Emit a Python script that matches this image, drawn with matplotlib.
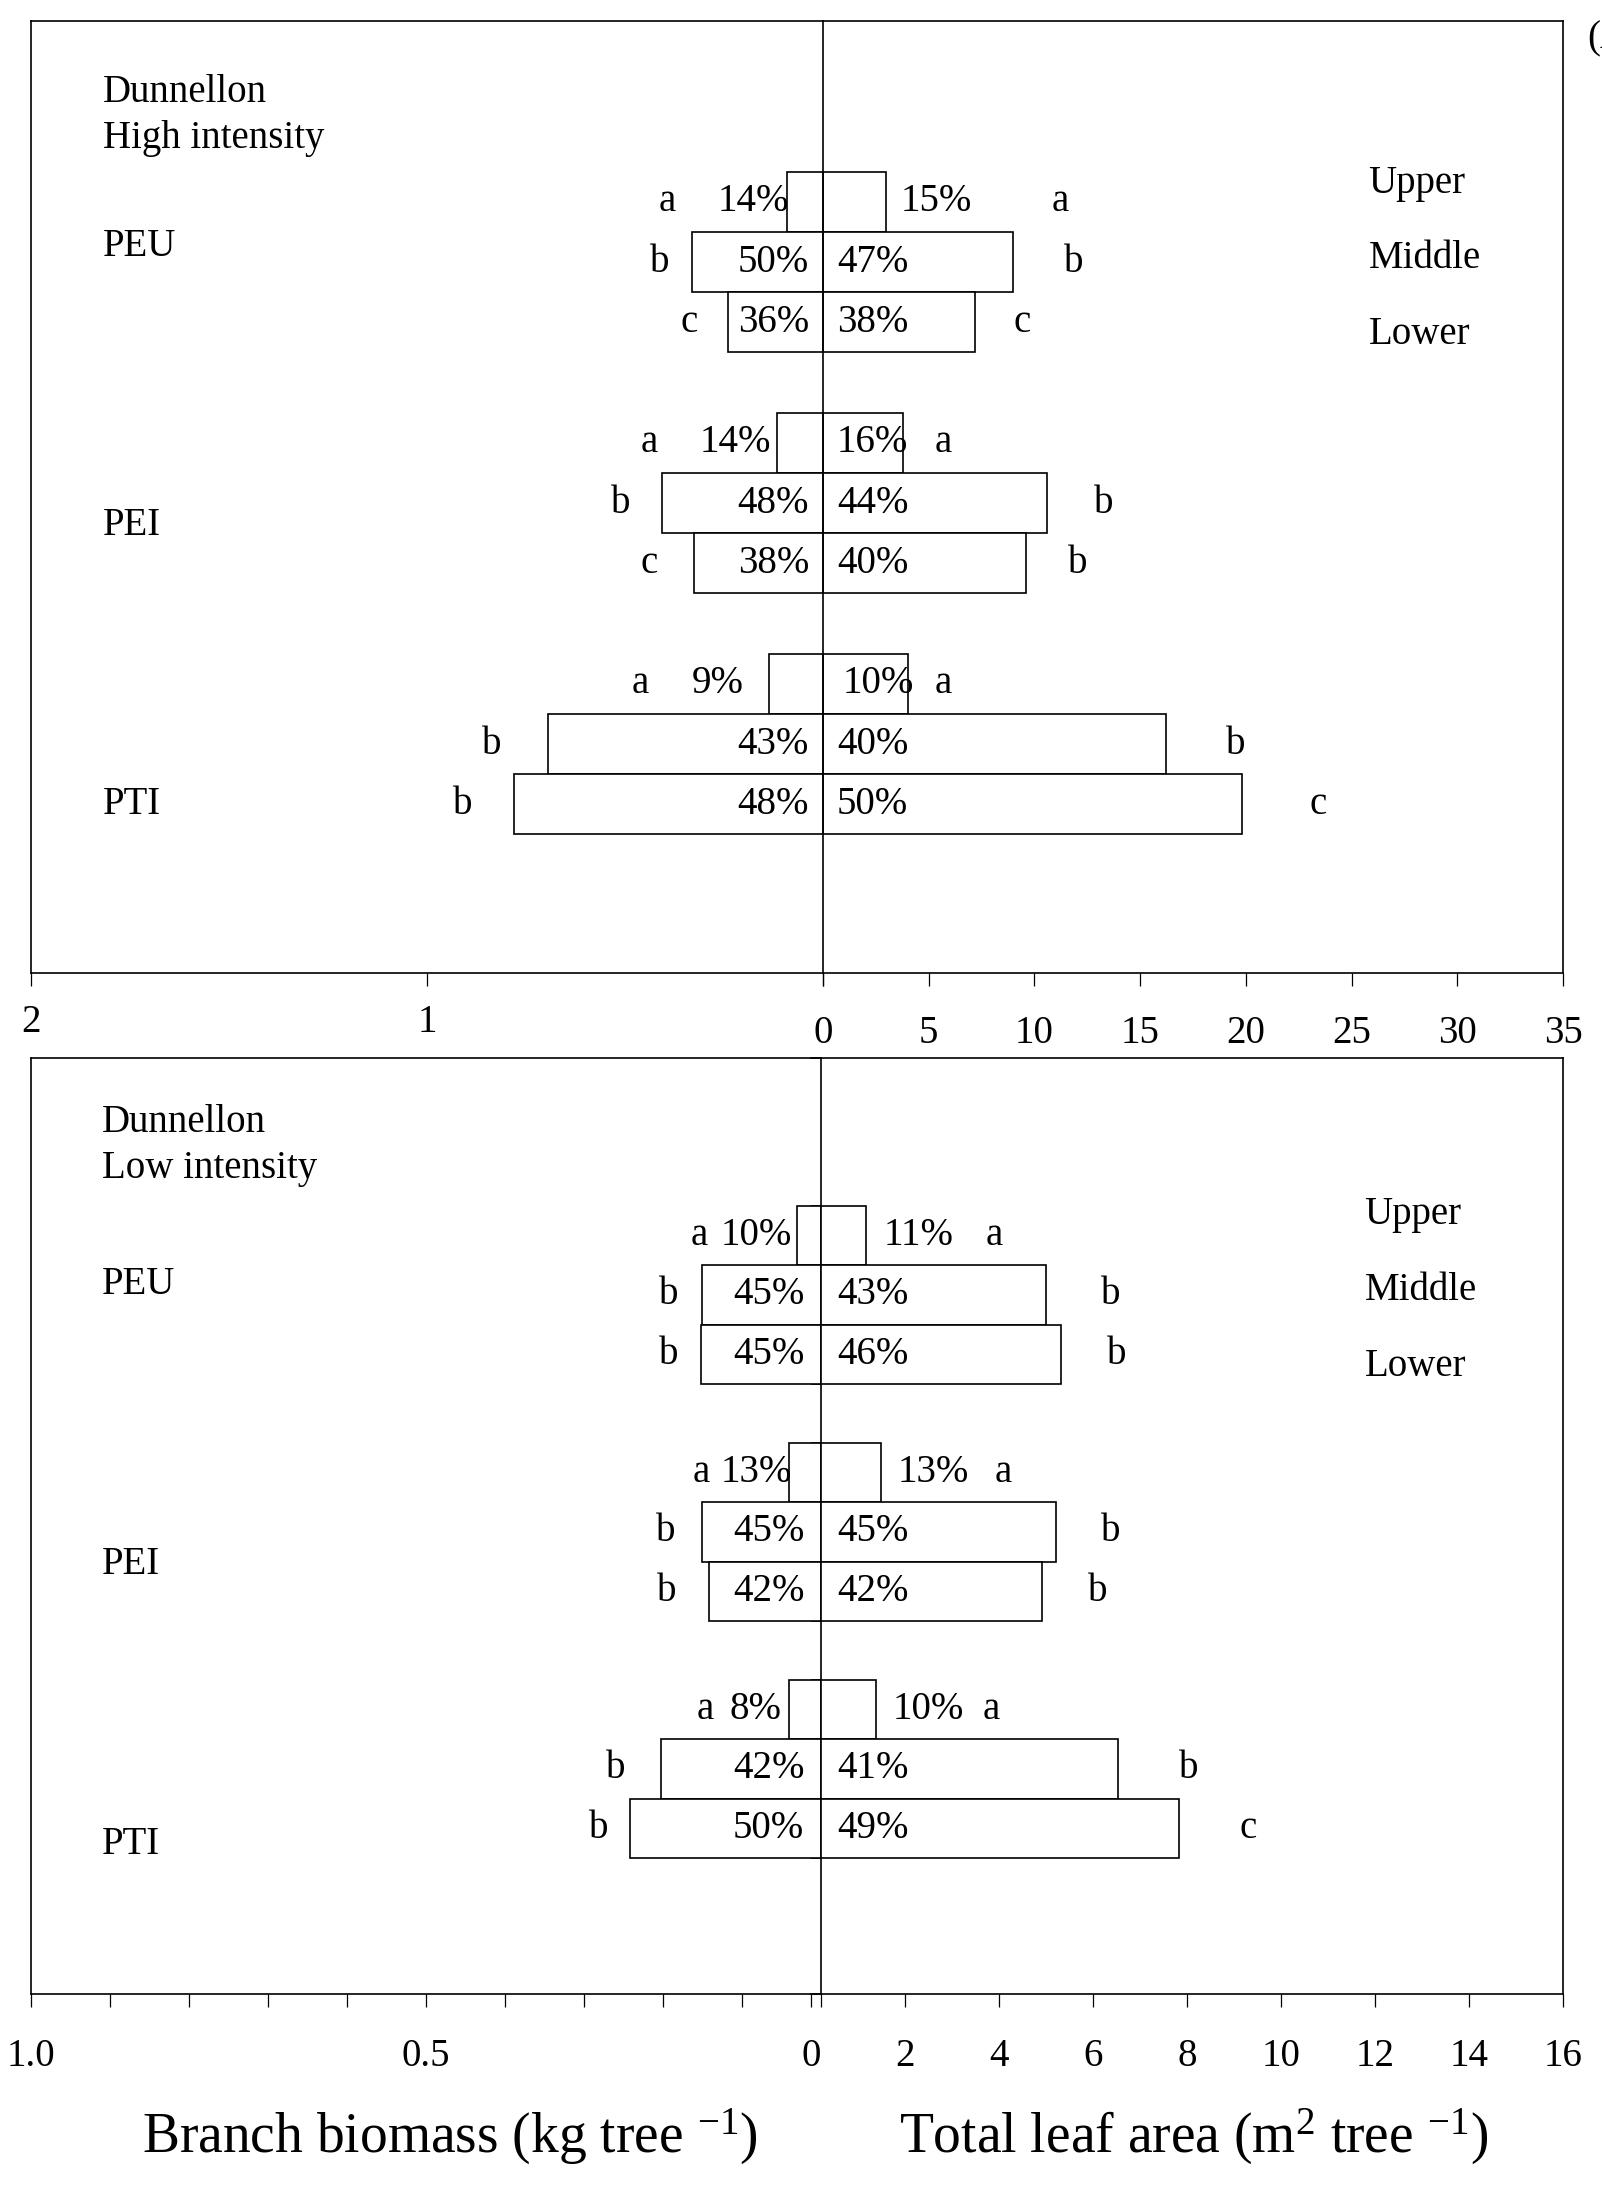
import numpy as np
import matplotlib
matplotlib.use('Agg')
import matplotlib.pyplot as plt

plt.rcParams['font.family'] = ['Liberation Serif', 'DejaVu Serif']
plt.rcParams['mathtext.fontset'] = 'custom'
plt.rcParams['mathtext.rm'] = 'Liberation Serif'
plt.rcParams['mathtext.it'] = 'Liberation Serif:italic'

sites = ['PEU', 'PEI', 'PTI']
layers = ['Upper', 'Middle', 'Lower']

# high intensity: branch biomass (kg tree-1) and total leaf area (m2 tree-1) by crown layer
high_branch = [[0.091, 0.331, 0.240], [0.116, 0.407, 0.326], [0.137, 0.695, 0.780]]
high_branch_pct = [[14, 50, 36], [14, 48, 38], [9, 43, 48]]
high_branch_letters = [['a', 'b', 'c'], ['a', 'b', 'c'], ['a', 'b', 'b']]
high_leaf = [[3.0, 9.0, 7.17], [3.79, 10.6, 9.6], [4.0, 16.2, 19.8]]
high_leaf_pct = [[15, 47, 38], [16, 44, 40], [10, 40, 50]]
high_leaf_letters = [['a', 'b', 'c'], ['a', 'b', 'b'], ['a', 'b', 'c']]

# low intensity
low_branch = [[0.030, 0.151, 0.152], [0.041, 0.151, 0.142], [0.041, 0.202, 0.242]]
low_branch_pct = [[10, 45, 45], [13, 45, 42], [8, 42, 50]]
low_branch_letters = [['a', 'b', 'b'], ['a', 'b', 'b'], ['a', 'b', 'b']]
low_leaf = [[1.18, 5.0, 5.31], [1.49, 5.21, 4.92], [1.39, 6.53, 7.84]]
low_leaf_pct = [[11, 43, 46], [13, 45, 42], [10, 41, 49]]
low_leaf_letters = [['a', 'b', 'b'], ['a', 'b', 'b'], ['a', 'b', 'c']]

W, H = 1602, 2189
FS = 28


def px_axes(x0, x1, y0, y1, z=1):
    ax = fig.add_axes([x0 / W, 1 - y1 / H, (x1 - x0) / W, (y1 - y0) / H])
    ax.set_zorder(z)
    return ax


def draw_panel(ax_l, ax_r, branch, leaf, bpct, lpct, blet, llet, lay):
    for ax in (ax_l, ax_r):
        ax.set_ylim(15.8, 0)
        ax.set_yticks([])
        for s in ax.spines.values():
            s.set_linewidth(1.2)
        ax.patch.set_visible(False)
    ax_r.spines['left'].set_visible(False)
    for i, site in enumerate(sites):
        ys = [4 * (i + 1) + k for k in (-1, 0, 1)]
        ax_l.barh(ys, branch[i], height=1, left=0, color='white',
                  edgecolor='black', linewidth=1.2)
        ax_r.barh(ys, leaf[i], height=1, left=0, color='white',
                  edgecolor='black', linewidth=1.2)
        for k in range(3):
            if k == 0:
                ax_l.text(lay['up_l'][i], ys[k], f'{bpct[i][k]}%', ha='center',
                          va='center', fontsize=FS)
                ax_r.text(lay['up_r'][i], ys[k], f'{lpct[i][k]}%', ha='center',
                          va='center', fontsize=FS)
            else:
                # labels of the two big bars sit against the centre line
                ax_l.annotate(f'{bpct[i][k]}%', xy=(0, ys[k]), xytext=(-lay['pad'], 0),
                              textcoords='offset points', ha='right', va='center',
                              fontsize=FS)
                ax_l.annotate(f'{lpct[i][k]}%', xy=(0, ys[k]), xytext=(lay['pad'], 0),
                              textcoords='offset points', ha='left', va='center',
                              fontsize=FS, annotation_clip=False)
            ax_l.text(lay['let_l'][i][k], ys[k], blet[i][k], ha='center',
                      va='center', fontsize=FS)
            ax_r.text(lay['let_r'][i][k], ys[k], llet[i][k], ha='center',
                      va='center', fontsize=FS)
        ax_l.text(lay['lab_x'], lay['site_y'][i], site, ha='left', va='center',
                  fontsize=FS, transform=ax_l.get_yaxis_transform())
    for k, layer in enumerate(layers):
        ax_r.text(lay['layer_x'], lay['layer_y'][k], layer, ha='left', va='center',
                  fontsize=FS, transform=ax_r.get_yaxis_transform())
    for t, y in zip(lay['title'], lay['title_y']):
        ax_l.text(lay['lab_x'], y, t, ha='left', va='center', fontsize=FS,
                  transform=ax_l.get_yaxis_transform())


fig = plt.figure(figsize=(W / 100, H / 100), dpi=100)

# upper panel
a1 = px_axes(31, 823, 21, 973, z=2)
b1 = px_axes(823, 1563, 21, 973)
a1.set_xlim(2, 0)
b1.set_xlim(0, 35)
a1.set_xticks([2, 1, 0])
a1.set_xticklabels(['2', '1', ''])
b1.set_xticks(range(0, 36, 5))
a1.tick_params(axis='x', direction='out', length=9.5, width=0.9, labelsize=FS, pad=13)
b1.tick_params(axis='x', direction='out', length=9.5, width=0.9, labelsize=FS, pad=21)

draw_panel(a1, b1, high_branch, high_leaf, high_branch_pct, high_leaf_pct,
           high_branch_letters, high_leaf_letters,
           dict(up_l=[0.1755, 0.221, 0.267], up_r=[5.38, 2.34, 2.60], pad=10,
                let_l=[[0.394, 0.412, 0.338], [0.44, 0.51, 0.44], [0.461, 0.836, 0.91]],
                let_r=[[11.2, 11.86, 9.41], [5.71, 13.3, 12.06], [5.71, 19.5, 23.4]],
                lab_x=0.091, site_y=[3.74, 8.38, 13.0],
                layer_x=0.737, layer_y=[2.69, 3.94, 5.2],
                title=['Dunnellon', 'High intensity'], title_y=[1.18, 1.95]))

# lower panel: the leaf-area zero sits a little left of the centre line
a2 = px_axes(31, 821, 1058, 1994, z=2)
b2 = px_axes(811, 1563, 1058, 1994)
a2.set_xlim(1, 0)
b2.set_xlim(0, 16)
a2.set_xticks(np.linspace(1, 0, 11))
a2.set_xticklabels(['1.0', '', '', '', '', '0.5', '', '', '', '', ''])
b2.set_xticks(range(0, 17, 2))
a2.tick_params(axis='x', direction='out', length=9.5, width=0.9, labelsize=FS, pad=22)
b2.tick_params(axis='x', direction='out', length=9.5, width=0.9, labelsize=FS, pad=22)

draw_panel(a2, b2, low_branch, low_leaf, low_branch_pct, low_leaf_pct,
           low_branch_letters, low_leaf_letters,
           dict(up_l=[0.082, 0.082, 0.0835], up_r=[2.29, 2.61, 2.50], pad=12,
                let_l=[[0.154, 0.193, 0.193], [0.151, 0.197, 0.195], [0.146, 0.26, 0.282]],
                let_r=[[3.89, 6.38, 6.51], [4.10, 6.38, 6.09], [3.83, 8.03, 9.31]],
                lab_x=0.09, site_y=[3.83, 8.55, 13.27],
                layer_x=0.736, layer_y=[2.65, 3.92, 5.2],
                title=['Dunnellon', 'Low intensity'], title_y=[1.09, 1.87]))

fig.text(450 / W, 1 - 2153 / H, r'Branch biomass (kg tree $^{-1}$)', ha='center',
         va='baseline', fontsize=40)
fig.text(1194 / W, 1 - 2153 / H, r'Total leaf area (m$^{2}$ tree $^{-1}$)', ha='center',
         va='baseline', fontsize=40)
fig.text(1587 / W, 1 - 39 / H, '(A)', ha='left', va='center', fontsize=FS)

fig.savefig('out.png', dpi=100)
